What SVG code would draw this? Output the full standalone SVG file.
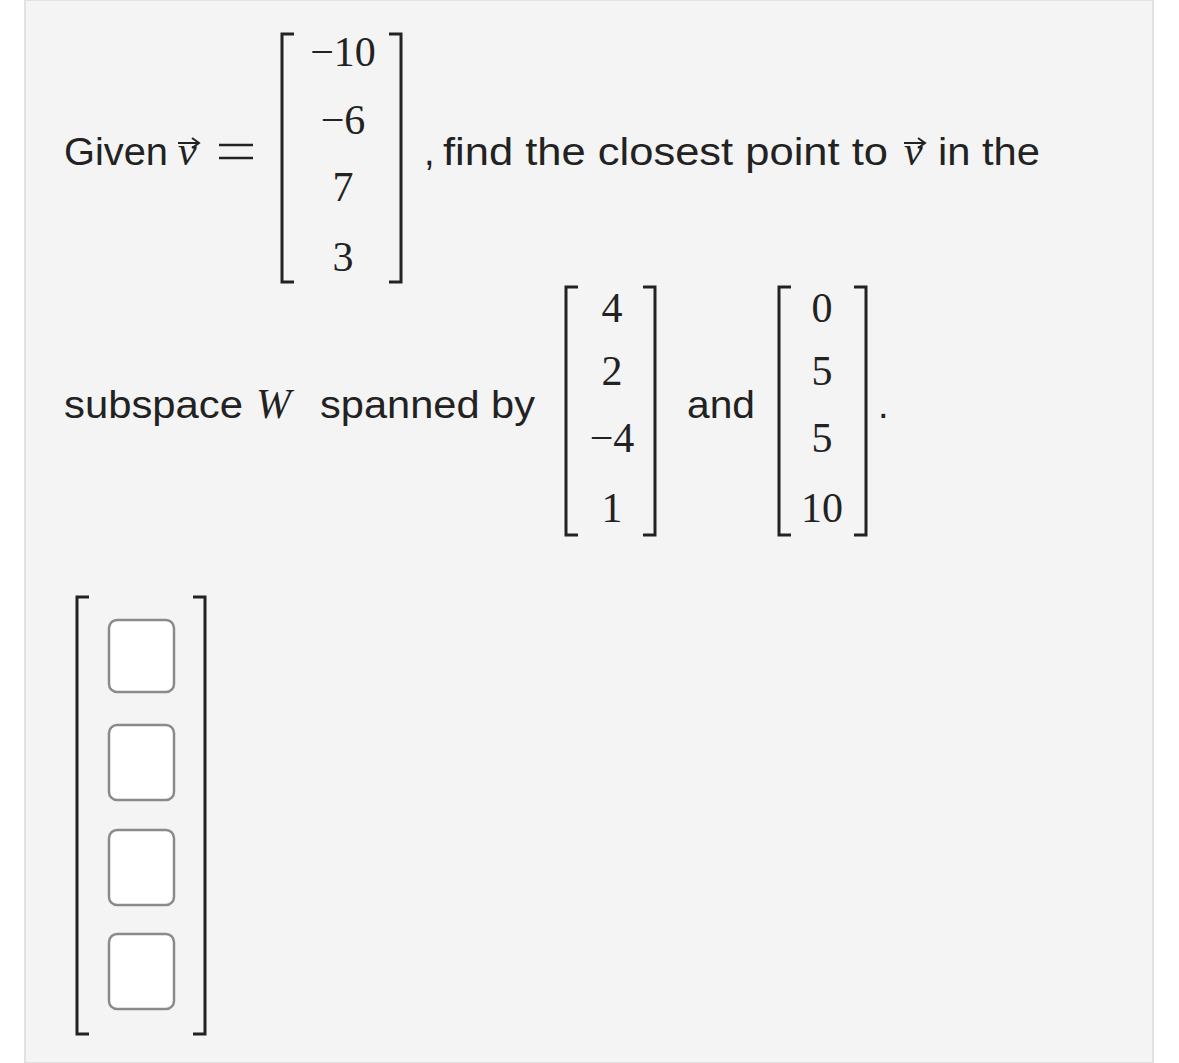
<svg xmlns="http://www.w3.org/2000/svg" width="1179" height="1063" viewBox="0 0 1179 1063">
<style>
.s{font-family:"Liberation Sans",Arial,sans-serif;font-size:38px;fill:#222}
.m{font-family:"Liberation Serif","Times New Roman",serif;font-size:42px;fill:#222;text-anchor:middle}
.i{font-family:"Liberation Serif","Times New Roman",serif;font-size:42px;font-style:italic;fill:#222}
.b{fill:none;stroke:#222;stroke-width:3}
.box{fill:#fff;stroke:#8a8a8a;stroke-width:2.5}
.ar{fill:none;stroke:#222;stroke-width:2}
</style>
<rect width="1179" height="1063" fill="#fff"/>
<rect x="25" y="0" width="1128" height="1063" fill="#f4f4f4" stroke="#e2e2e2" stroke-width="2"/>
<text class="s" x="64" y="165" textLength="104" lengthAdjust="spacingAndGlyphs">Given</text>
<text class="i" x="178" y="165">v</text>
<path class="ar" d="M178 143 H198 M192 138 L199 143 L192 148"/>
<path d="M219 145 H253 M219 158 H253" stroke="#222" stroke-width="2.5"/>
<path class="b" d="M294 34 H282 V282 H294 M389 34 H401 V282 H389"/>
<text class="m" x="343" y="66">−10</text>
<text class="m" x="343" y="134">−6</text>
<text class="m" x="343" y="201">7</text>
<text class="m" x="343" y="271">3</text>
<text class="s" x="424" y="165">,</text>
<text class="s" x="443" y="165" textLength="445" lengthAdjust="spacingAndGlyphs">find the closest point to</text>
<text class="i" x="904" y="165">v</text>
<path class="ar" d="M904 143 H924 M918 138 L925 143 L918 148"/>
<text class="s" x="938" y="165" textLength="102" lengthAdjust="spacingAndGlyphs">in the</text>
<text class="s" x="64" y="418" textLength="179" lengthAdjust="spacingAndGlyphs">subspace</text>
<text class="i" x="256" y="418">W</text>
<text class="s" x="320" y="418" textLength="215" lengthAdjust="spacingAndGlyphs">spanned by</text>
<path class="b" d="M578 287 H566 V535 H578 M643 287 H655 V535 H643"/>
<text class="m" x="612" y="322">4</text>
<text class="m" x="612" y="385">2</text>
<text class="m" x="612" y="452">−4</text>
<text class="m" x="612" y="522">1</text>
<text class="s" x="687" y="418" textLength="68" lengthAdjust="spacingAndGlyphs">and</text>
<path class="b" d="M791 287 H779 V535 H791 M854 287 H866 V535 H854"/>
<text class="m" x="822" y="322">0</text>
<text class="m" x="822" y="385">5</text>
<text class="m" x="822" y="452">5</text>
<text class="m" x="822" y="522">10</text>
<text class="s" x="878" y="418">.</text>
<path class="b" d="M89 597 H77 V1034 H89 M193 597 H205 V1034 H193"/>
<rect class="box" x="109" y="620" width="65" height="72" rx="8"/>
<rect class="box" x="109" y="725" width="65" height="75" rx="8"/>
<rect class="box" x="109" y="830" width="65" height="75" rx="8"/>
<rect class="box" x="109" y="934" width="65" height="75" rx="8"/>
</svg>
